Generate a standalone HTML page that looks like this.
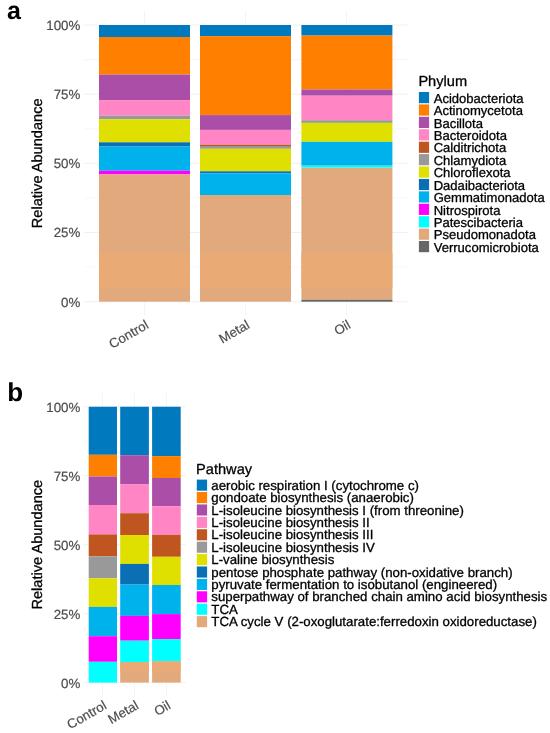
<!DOCTYPE html>
<html><head><meta charset="utf-8"><title>Figure</title>
<style>
html,body{margin:0;padding:0;background:#fff;}
text{stroke-width:0.3px;stroke-linejoin:round;}
text[fill="#000"]{stroke:#000;}
text[fill="#4D4D4D"]{stroke:#4D4D4D;stroke-width:0.2px;}
svg{display:block;font-family:"Liberation Sans",sans-serif;text-rendering:geometricPrecision;}
</style></head>
<body>
<svg width="550" height="733" viewBox="0 0 550 733">
<rect x="0" y="0" width="550" height="733" fill="#FFFFFF"/>
<line x1="84" x2="407.5" y1="267.11" y2="267.11" stroke="#EBEBEB" stroke-width="0.4"/>
<line x1="84" x2="407.5" y1="197.94" y2="197.94" stroke="#EBEBEB" stroke-width="0.4"/>
<line x1="84" x2="407.5" y1="128.76" y2="128.76" stroke="#EBEBEB" stroke-width="0.4"/>
<line x1="84" x2="407.5" y1="59.59" y2="59.59" stroke="#EBEBEB" stroke-width="0.4"/>
<line x1="84" x2="407.5" y1="301.7" y2="301.7" stroke="#EBEBEB" stroke-width="0.75"/>
<line x1="84" x2="407.5" y1="232.52" y2="232.52" stroke="#EBEBEB" stroke-width="0.75"/>
<line x1="84" x2="407.5" y1="163.35" y2="163.35" stroke="#EBEBEB" stroke-width="0.75"/>
<line x1="84" x2="407.5" y1="94.18" y2="94.18" stroke="#EBEBEB" stroke-width="0.75"/>
<line x1="84" x2="407.5" y1="25.0" y2="25.0" stroke="#EBEBEB" stroke-width="0.75"/>
<line x1="144.5" x2="144.5" y1="10.8" y2="315.4" stroke="#EBEBEB" stroke-width="0.55"/>
<line x1="245.5" x2="245.5" y1="10.8" y2="315.4" stroke="#EBEBEB" stroke-width="0.55"/>
<line x1="346.5" x2="346.5" y1="10.8" y2="315.4" stroke="#EBEBEB" stroke-width="0.55"/>
<rect x="99" y="25.0" width="91" height="12.0" fill="#0079BF"/>
<rect x="99" y="37.0" width="91" height="37.6" fill="#FF7F00"/>
<rect x="99" y="74.6" width="91" height="25.5" fill="#AA4EA8"/>
<rect x="99" y="100.1" width="91" height="15.5" fill="#FF85C4"/>
<rect x="99" y="115.6" width="91" height="3.7" fill="#999999"/>
<rect x="99" y="119.3" width="91" height="23.0" fill="#E0E000"/>
<rect x="99" y="142.3" width="91" height="4.3" fill="#0A6FB5"/>
<rect x="99" y="146.6" width="91" height="24.1" fill="#00B2EB"/>
<rect x="99" y="170.7" width="91" height="3.7" fill="#FF00FF"/>
<rect x="99" y="174.4" width="91" height="127.3" fill="#E2A97C"/>
<rect x="200" y="25.0" width="91" height="11.1" fill="#0079BF"/>
<rect x="200" y="36.1" width="91" height="79.0" fill="#FF7F00"/>
<rect x="200" y="115.1" width="91" height="14.8" fill="#AA4EA8"/>
<rect x="200" y="129.9" width="91" height="14.8" fill="#FF85C4"/>
<rect x="200" y="144.7" width="91" height="1.3" fill="#C0561F"/>
<rect x="200" y="146" width="91" height="2.8" fill="#999999"/>
<rect x="200" y="148.8" width="91" height="22.5" fill="#E0E000"/>
<rect x="200" y="171.3" width="91" height="2.0" fill="#0A6FB5"/>
<rect x="200" y="173.3" width="91" height="21.7" fill="#00B2EB"/>
<rect x="200" y="195" width="91" height="106.7" fill="#E2A97C"/>
<rect x="301.4" y="25.0" width="91.0" height="10.6" fill="#0079BF"/>
<rect x="301.4" y="35.6" width="91.0" height="53.9" fill="#FF7F00"/>
<rect x="301.4" y="89.5" width="91.0" height="6.2" fill="#AA4EA8"/>
<rect x="301.4" y="95.7" width="91.0" height="24.5" fill="#FF85C4"/>
<rect x="301.4" y="120.2" width="91.0" height="2.7" fill="#999999"/>
<rect x="301.4" y="122.9" width="91.0" height="18.9" fill="#E0E000"/>
<rect x="301.4" y="141.8" width="91.0" height="23.9" fill="#00B2EB"/>
<rect x="301.4" y="165.7" width="91.0" height="2.0" fill="#00FFFF"/>
<rect x="301.4" y="167.7" width="91.0" height="132.1" fill="#E2A97C"/>
<rect x="301.4" y="299.8" width="91.0" height="1.9" fill="#666666"/>
<rect x="99" y="253" width="91" height="35" fill="#EAAA75"/>
<rect x="200" y="253" width="91" height="35" fill="#EAAA75"/>
<rect x="301.4" y="253" width="91.0" height="35" fill="#EAAA75"/>
<text x="80.3" y="306.6" text-anchor="end" fill="#4D4D4D" font-size="13.3">0%</text>
<text x="80.3" y="237.42" text-anchor="end" fill="#4D4D4D" font-size="13.3">25%</text>
<text x="80.3" y="168.25" text-anchor="end" fill="#4D4D4D" font-size="13.3">50%</text>
<text x="80.3" y="99.08" text-anchor="end" fill="#4D4D4D" font-size="13.3">75%</text>
<text x="80.3" y="29.9" text-anchor="end" fill="#4D4D4D" font-size="13.3">100%</text>
<text transform="translate(42,163.3) rotate(-90)" text-anchor="middle" font-size="14.6" fill="#000">Relative Abundance</text>
<text transform="translate(149.5,327.5) rotate(-30)" text-anchor="end" fill="#4D4D4D" font-size="13.3">Control</text>
<text transform="translate(250.5,327.5) rotate(-30)" text-anchor="end" fill="#4D4D4D" font-size="13.3">Metal</text>
<text transform="translate(351.5,327.5) rotate(-30)" text-anchor="end" fill="#4D4D4D" font-size="13.3">Oil</text>
<text x="6.9" y="19.2" font-size="25" font-weight="bold" fill="#000" style="stroke:none">a</text>
<text x="418.4" y="86.1" font-size="14.6" fill="#000">Phylum</text>
<rect x="418.9" y="92.0" width="10.2" height="11.2" fill="#0079BF"/>
<text x="433.7" y="102.8" font-size="13.05" fill="#000">Acidobacteriota</text>
<rect x="418.9" y="104.42" width="10.2" height="11.2" fill="#FF7F00"/>
<text x="433.7" y="115.22" font-size="13.05" fill="#000">Actinomycetota</text>
<rect x="418.9" y="116.83" width="10.2" height="11.2" fill="#AA4EA8"/>
<text x="433.7" y="127.63" font-size="13.05" fill="#000">Bacillota</text>
<rect x="418.9" y="129.25" width="10.2" height="11.2" fill="#FF85C4"/>
<text x="433.7" y="140.05" font-size="13.05" fill="#000">Bacteroidota</text>
<rect x="418.9" y="141.67" width="10.2" height="11.2" fill="#C0561F"/>
<text x="433.7" y="152.47" font-size="13.05" fill="#000">Calditrichota</text>
<rect x="418.9" y="154.09" width="10.2" height="11.2" fill="#999999"/>
<text x="433.7" y="164.89" font-size="13.05" fill="#000">Chlamydiota</text>
<rect x="418.9" y="166.5" width="10.2" height="11.2" fill="#E0E000"/>
<text x="433.7" y="177.3" font-size="13.05" fill="#000">Chloroflexota</text>
<rect x="418.9" y="178.92" width="10.2" height="11.2" fill="#0A6FB5"/>
<text x="433.7" y="189.72" font-size="13.05" fill="#000">Dadaibacteriota</text>
<rect x="418.9" y="191.34" width="10.2" height="11.2" fill="#00B2EB"/>
<text x="433.7" y="202.14" font-size="13.05" fill="#000">Gemmatimonadota</text>
<rect x="418.9" y="203.75" width="10.2" height="11.2" fill="#FF00FF"/>
<text x="433.7" y="214.55" font-size="13.05" fill="#000">Nitrospirota</text>
<rect x="418.9" y="216.17" width="10.2" height="11.2" fill="#00FFFF"/>
<text x="433.7" y="226.97" font-size="13.05" fill="#000">Patescibacteria</text>
<rect x="418.9" y="228.59" width="10.2" height="11.2" fill="#E2A97C"/>
<text x="433.7" y="239.39" font-size="13.05" fill="#000">Pseudomonadota</text>
<rect x="418.9" y="241.0" width="10.2" height="11.2" fill="#666666"/>
<text x="433.7" y="251.8" font-size="13.05" fill="#000">Verrucomicrobiota</text>
<line x1="83.3" x2="185.7" y1="648.12" y2="648.12" stroke="#EBEBEB" stroke-width="0.4"/>
<line x1="83.3" x2="185.7" y1="579.16" y2="579.16" stroke="#EBEBEB" stroke-width="0.4"/>
<line x1="83.3" x2="185.7" y1="510.19" y2="510.19" stroke="#EBEBEB" stroke-width="0.4"/>
<line x1="83.3" x2="185.7" y1="441.23" y2="441.23" stroke="#EBEBEB" stroke-width="0.4"/>
<line x1="83.3" x2="185.7" y1="682.6" y2="682.6" stroke="#EBEBEB" stroke-width="0.75"/>
<line x1="83.3" x2="185.7" y1="613.64" y2="613.64" stroke="#EBEBEB" stroke-width="0.75"/>
<line x1="83.3" x2="185.7" y1="544.67" y2="544.67" stroke="#EBEBEB" stroke-width="0.75"/>
<line x1="83.3" x2="185.7" y1="475.71" y2="475.71" stroke="#EBEBEB" stroke-width="0.75"/>
<line x1="83.3" x2="185.7" y1="406.75" y2="406.75" stroke="#EBEBEB" stroke-width="0.75"/>
<line x1="102.5" x2="102.5" y1="392.9" y2="696.4" stroke="#EBEBEB" stroke-width="0.55"/>
<line x1="134.5" x2="134.5" y1="392.9" y2="696.4" stroke="#EBEBEB" stroke-width="0.55"/>
<line x1="166.5" x2="166.5" y1="392.9" y2="696.4" stroke="#EBEBEB" stroke-width="0.55"/>
<rect x="88.7" y="406.75" width="28.3" height="48.05" fill="#0079BF"/>
<rect x="88.7" y="454.8" width="28.3" height="21.7" fill="#FF7F00"/>
<rect x="88.7" y="476.5" width="28.3" height="28.5" fill="#AA4EA8"/>
<rect x="88.7" y="505" width="28.3" height="29.4" fill="#FF85C4"/>
<rect x="88.7" y="534.4" width="28.3" height="22.0" fill="#C0561F"/>
<rect x="88.7" y="556.4" width="28.3" height="21.9" fill="#999999"/>
<rect x="88.7" y="578.3" width="28.3" height="28.6" fill="#E0E000"/>
<rect x="88.7" y="606.9" width="28.3" height="29.3" fill="#00B2EB"/>
<rect x="88.7" y="636.2" width="28.3" height="25.6" fill="#FF00FF"/>
<rect x="88.7" y="661.8" width="28.3" height="20.8" fill="#00FFFF"/>
<rect x="120.2" y="406.75" width="28.7" height="48.45" fill="#0079BF"/>
<rect x="120.2" y="455.2" width="28.7" height="28.9" fill="#AA4EA8"/>
<rect x="120.2" y="484.1" width="28.7" height="29.1" fill="#FF85C4"/>
<rect x="120.2" y="513.2" width="28.7" height="21.8" fill="#C0561F"/>
<rect x="120.2" y="535" width="28.7" height="28.9" fill="#E0E000"/>
<rect x="120.2" y="563.9" width="28.7" height="20.7" fill="#0A6FB5"/>
<rect x="120.2" y="584.6" width="28.7" height="31.3" fill="#00B2EB"/>
<rect x="120.2" y="615.9" width="28.7" height="24.8" fill="#FF00FF"/>
<rect x="120.2" y="640.7" width="28.7" height="21.5" fill="#00FFFF"/>
<rect x="120.2" y="662.2" width="28.7" height="20.4" fill="#E2A97C"/>
<rect x="152.1" y="406.75" width="28.6" height="49.35" fill="#0079BF"/>
<rect x="152.1" y="456.1" width="28.6" height="21.9" fill="#FF7F00"/>
<rect x="152.1" y="478" width="28.6" height="28.2" fill="#AA4EA8"/>
<rect x="152.1" y="506.2" width="28.6" height="28.6" fill="#FF85C4"/>
<rect x="152.1" y="534.8" width="28.6" height="22.0" fill="#C0561F"/>
<rect x="152.1" y="556.8" width="28.6" height="28.2" fill="#E0E000"/>
<rect x="152.1" y="585" width="28.6" height="29.1" fill="#00B2EB"/>
<rect x="152.1" y="614.1" width="28.6" height="25.1" fill="#FF00FF"/>
<rect x="152.1" y="639.2" width="28.6" height="22.1" fill="#00FFFF"/>
<rect x="152.1" y="661.3" width="28.6" height="21.3" fill="#E2A97C"/>
<rect x="120.2" y="662.2" width="28.7" height="8.8" fill="#EAAA75"/>
<rect x="152.1" y="661.3" width="28.6" height="9.7" fill="#EAAA75"/>
<text x="80.3" y="687.5" text-anchor="end" fill="#4D4D4D" font-size="13.3">0%</text>
<text x="80.3" y="618.54" text-anchor="end" fill="#4D4D4D" font-size="13.3">25%</text>
<text x="80.3" y="549.57" text-anchor="end" fill="#4D4D4D" font-size="13.3">50%</text>
<text x="80.3" y="480.61" text-anchor="end" fill="#4D4D4D" font-size="13.3">75%</text>
<text x="80.3" y="411.65" text-anchor="end" fill="#4D4D4D" font-size="13.3">100%</text>
<text transform="translate(42,544.675) rotate(-90)" text-anchor="middle" font-size="14.6" fill="#000">Relative Abundance</text>
<text transform="translate(107.5,708.0) rotate(-30)" text-anchor="end" fill="#4D4D4D" font-size="13.3">Control</text>
<text transform="translate(139.5,708.0) rotate(-30)" text-anchor="end" fill="#4D4D4D" font-size="13.3">Metal</text>
<text transform="translate(171.5,708.0) rotate(-30)" text-anchor="end" fill="#4D4D4D" font-size="13.3">Oil</text>
<text x="7.2" y="400.8" font-size="26" font-weight="bold" fill="#000" style="stroke:none">b</text>
<text x="196.1" y="473.6" font-size="14.6" fill="#000">Pathway</text>
<rect x="196.8" y="479.6" width="10.3" height="11.1" fill="#0079BF"/>
<text x="211.3" y="489.8" font-size="13.25" fill="#000">aerobic respiration I (cytochrome c)</text>
<rect x="196.8" y="492.01" width="10.3" height="11.1" fill="#FF7F00"/>
<text x="211.3" y="502.21" font-size="13.25" fill="#000">gondoate biosynthesis (anaerobic)</text>
<rect x="196.8" y="504.42" width="10.3" height="11.1" fill="#AA4EA8"/>
<text x="211.3" y="514.62" font-size="13.25" fill="#000">L-isoleucine biosynthesis I (from threonine)</text>
<rect x="196.8" y="516.83" width="10.3" height="11.1" fill="#FF85C4"/>
<text x="211.3" y="527.03" font-size="13.25" fill="#000">L-isoleucine biosynthesis II</text>
<rect x="196.8" y="529.24" width="10.3" height="11.1" fill="#C0561F"/>
<text x="211.3" y="539.44" font-size="13.25" fill="#000">L-isoleucine biosynthesis III</text>
<rect x="196.8" y="541.65" width="10.3" height="11.1" fill="#999999"/>
<text x="211.3" y="551.85" font-size="13.25" fill="#000">L-isoleucine biosynthesis IV</text>
<rect x="196.8" y="554.06" width="10.3" height="11.1" fill="#E0E000"/>
<text x="211.3" y="564.26" font-size="13.25" fill="#000">L-valine biosynthesis</text>
<rect x="196.8" y="566.47" width="10.3" height="11.1" fill="#0A6FB5"/>
<text x="211.3" y="576.67" font-size="13.25" fill="#000">pentose phosphate pathway (non-oxidative branch)</text>
<rect x="196.8" y="578.88" width="10.3" height="11.1" fill="#00B2EB"/>
<text x="211.3" y="589.08" font-size="13.25" fill="#000">pyruvate fermentation to isobutanol (engineered)</text>
<rect x="196.8" y="591.29" width="10.3" height="11.1" fill="#FF00FF"/>
<text x="211.3" y="601.49" font-size="13.25" fill="#000">superpathway of branched chain amino acid biosynthesis</text>
<rect x="196.8" y="603.7" width="10.3" height="11.1" fill="#00FFFF"/>
<text x="211.3" y="613.9" font-size="13.25" fill="#000">TCA</text>
<rect x="196.8" y="616.11" width="10.3" height="11.1" fill="#E2A97C"/>
<text x="211.3" y="626.31" font-size="13.25" fill="#000">TCA cycle V (2-oxoglutarate:ferredoxin oxidoreductase)</text>
</svg>
</body></html>
